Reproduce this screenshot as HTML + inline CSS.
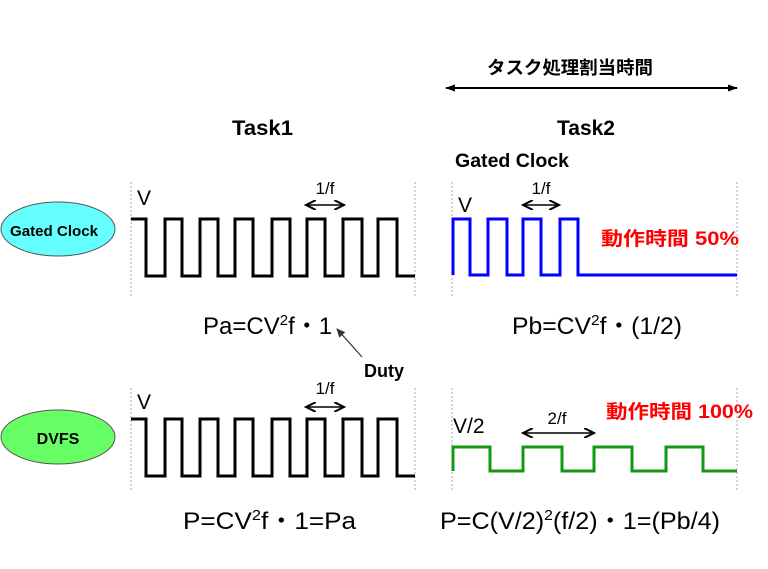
<!DOCTYPE html>
<html><head><meta charset="utf-8"><style>
body{margin:0;background:#fff;}
svg{display:block;font-family:"Liberation Sans","Noto Sans CJK JP",sans-serif;}
</style></head><body>
<svg width="768" height="569" viewBox="0 0 768 569" xmlns="http://www.w3.org/2000/svg">
<defs>
<marker id="ah" markerWidth="12" markerHeight="10" refX="9" refY="5" orient="auto-start-reverse" markerUnits="userSpaceOnUse"><path d="M0,0 L10,5 L0,10" fill="none" stroke="#000" stroke-width="2"/></marker>
<marker id="af" markerWidth="10" markerHeight="8" refX="9" refY="4" orient="auto-start-reverse" markerUnits="userSpaceOnUse"><path d="M0,0.5 L10,4 L0,7.5 z" fill="#000"/></marker>
<marker id="ah2" markerWidth="10" markerHeight="10" refX="8" refY="5" orient="auto" markerUnits="userSpaceOnUse"><path d="M0,1 L9,5 L0,9 z" fill="#333"/></marker>
</defs>
<text x="487" y="74" font-size="18" font-weight="bold" textLength="166" lengthAdjust="spacingAndGlyphs">タスク処理割当時間</text>
<line x1="446" y1="88" x2="737" y2="88" stroke="#000" stroke-width="2" marker-start="url(#af)" marker-end="url(#af)"/>
<text x="232" y="135" font-size="21" font-weight="bold" textLength="61" lengthAdjust="spacingAndGlyphs">Task1</text>
<text x="557" y="135" font-size="21" font-weight="bold" textLength="58" lengthAdjust="spacingAndGlyphs">Task2</text>
<text x="455" y="167" font-size="19" font-weight="bold" textLength="114" lengthAdjust="spacingAndGlyphs">Gated Clock</text>

<ellipse cx="58" cy="229" rx="57" ry="27" fill="#66ffff" stroke="#555"/>
<text x="10" y="236" font-size="15" font-weight="bold" textLength="88" lengthAdjust="spacingAndGlyphs">Gated Clock</text>
<ellipse cx="58" cy="437" rx="57" ry="27" fill="#66ff66" stroke="#555"/>
<text x="58" y="444" font-size="16" font-weight="bold" text-anchor="middle">DVFS</text>

<g stroke="#aaa" stroke-width="1" stroke-dasharray="2,2">
<line x1="131" y1="182" x2="131" y2="296"/><line x1="415" y1="182" x2="415" y2="296"/>
<line x1="452" y1="182" x2="452" y2="296"/><line x1="737" y1="182" x2="737" y2="296"/>
<line x1="131" y1="388" x2="131" y2="490"/><line x1="415" y1="388" x2="415" y2="490"/>
<line x1="452" y1="388" x2="452" y2="490"/><line x1="737" y1="388" x2="737" y2="490"/>
</g>

<path d="M131,219 H146 V276 H165 V219 H182 V276 H200 V219 H218 V276 H235 V219 H253 V276 H272 V219 H290 V276 H307 V219 H325 V276 H343 V219 H362 V276 H378 V219 H397 V276 H415" fill="none" stroke="#000" stroke-width="3"/>
<path d="M131,419 H146 V476 H165 V419 H182 V476 H200 V419 H218 V476 H235 V419 H253 V476 H272 V419 H290 V476 H307 V419 H325 V476 H343 V419 H362 V476 H378 V419 H397 V476 H415" fill="none" stroke="#000" stroke-width="3"/>
<path d="M453,275 V219 H470 V275 H488 V219 H507 V275 H523 V219 H541 V275 H560 V219 H578 V275 H737" fill="none" stroke="#0000ff" stroke-width="3"/>
<path d="M453,471 V447 H490 V471 H523 V447 H562 V471 H594 V447 H632 V471 H666 V447 H703 V471 H737" fill="none" stroke="#119911" stroke-width="3"/>

<text x="137" y="205" font-size="21">V</text>
<text x="137" y="409" font-size="21">V</text>
<text x="458" y="212" font-size="21">V</text>
<text x="453" y="433" font-size="21">V/2</text>
<text x="325" y="194" font-size="17" text-anchor="middle">1/f</text>
<line x1="307" y1="205" x2="343" y2="205" stroke="#000" stroke-width="1.5" marker-start="url(#ah)" marker-end="url(#ah)"/>
<text x="325" y="394" font-size="17" text-anchor="middle">1/f</text>
<line x1="307" y1="407" x2="343" y2="407" stroke="#000" stroke-width="1.5" marker-start="url(#ah)" marker-end="url(#ah)"/>
<text x="541" y="194" font-size="17" text-anchor="middle">1/f</text>
<line x1="524" y1="205" x2="558" y2="205" stroke="#000" stroke-width="1.5" marker-start="url(#ah)" marker-end="url(#ah)"/>
<text x="557" y="424" font-size="17" text-anchor="middle">2/f</text>
<line x1="524" y1="433" x2="593" y2="433" stroke="#000" stroke-width="1.5" marker-start="url(#ah)" marker-end="url(#ah)"/>

<text x="601" y="245" font-size="19" font-weight="bold" fill="#ff0000" textLength="138" lengthAdjust="spacingAndGlyphs">動作時間 50%</text>
<text x="606" y="418" font-size="19" font-weight="bold" fill="#ff0000" textLength="147" lengthAdjust="spacingAndGlyphs">動作時間 100%</text>

<text x="203" y="334" font-size="24">Pa=CV<tspan font-size="15" dy="-9">2</tspan><tspan dy="9">f・1</tspan></text>
<text x="512" y="334" font-size="24" textLength="170" lengthAdjust="spacingAndGlyphs">Pb=CV<tspan font-size="15" dy="-9">2</tspan><tspan dy="9">f・(1/2)</tspan></text>
<text x="183" y="529" font-size="24" textLength="173" lengthAdjust="spacingAndGlyphs">P=CV<tspan font-size="15" dy="-9">2</tspan><tspan dy="9">f・1=Pa</tspan></text>
<text x="440" y="529" font-size="24" textLength="280" lengthAdjust="spacingAndGlyphs">P=C(V/2)<tspan font-size="15" dy="-9">2</tspan><tspan dy="9">(f/2)・1=(Pb/4)</tspan></text>

<line x1="362" y1="357" x2="337" y2="329" stroke="#333" stroke-width="1.2" marker-end="url(#ah2)"/>
<text x="384" y="377" font-size="18" font-weight="bold" text-anchor="middle">Duty</text>
</svg>
</body></html>
